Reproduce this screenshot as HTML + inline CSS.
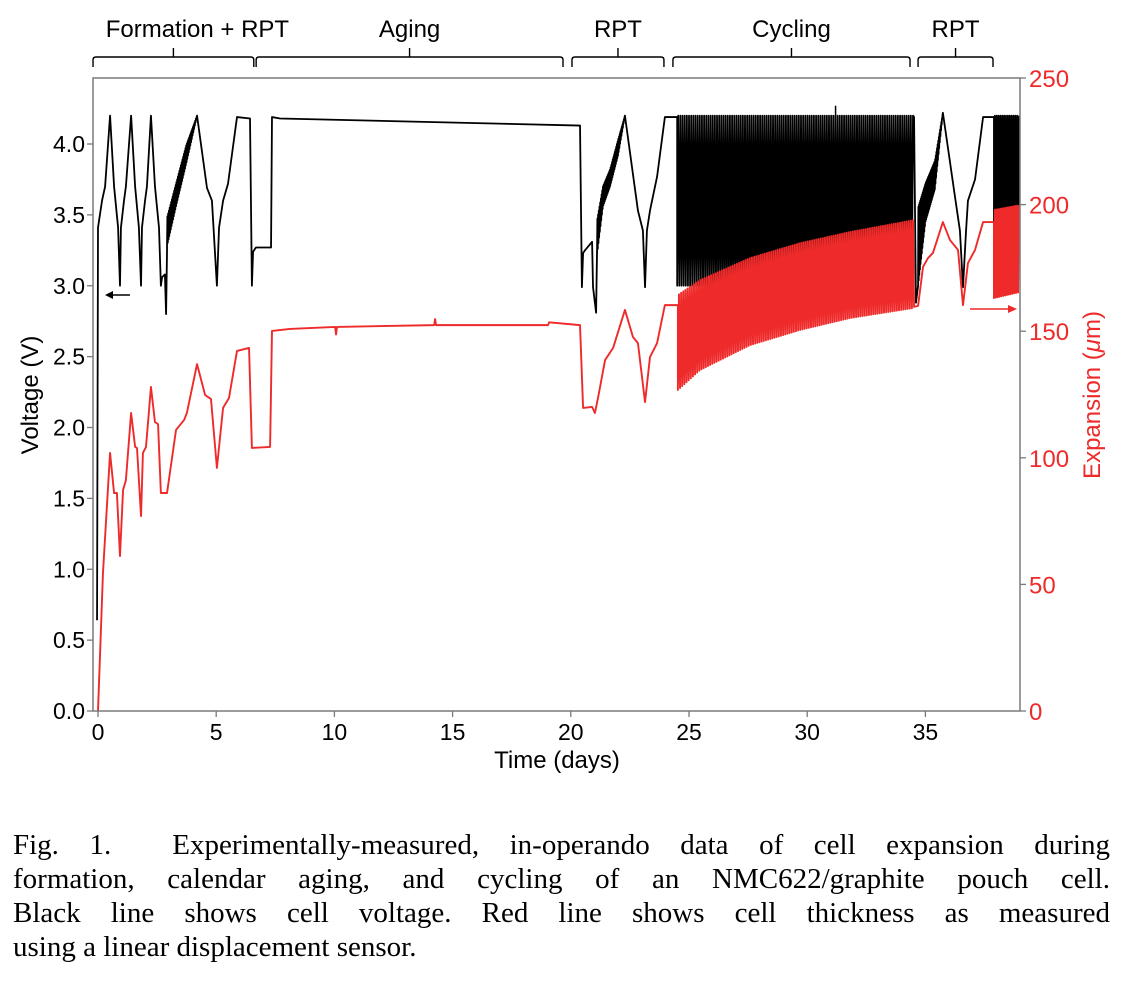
<!DOCTYPE html>
<html><head><meta charset="utf-8">
<style>
body{margin:0;background:#fff;width:1122px;height:988px;overflow:hidden;position:relative;font-family:"Liberation Sans",sans-serif}
#chart{position:absolute;left:0;top:0}
.cap{position:absolute;left:13px;width:1097px;font-family:"Liberation Serif",serif;font-size:29px;line-height:34px;color:#000;white-space:nowrap}
.j{text-align:justify;text-align-last:justify;white-space:normal}
</style></head><body>
<svg id="chart" width="1122" height="800" viewBox="0 0 1122 800" xmlns="http://www.w3.org/2000/svg"></svg>
<div class="cap j" style="top:828px">Fig. 1.&nbsp; Experimentally-measured, in-operando data of cell expansion during</div>
<div class="cap j" style="top:862px">formation, calendar aging, and cycling of an NMC622/graphite pouch cell.</div>
<div class="cap j" style="top:896px">Black line shows cell voltage. Red line shows cell thickness as measured</div>
<div class="cap" style="top:930px">using a linear displacement sensor.</div>
<script>
// ---- data ----
const xTicks = [0,5,10,15,20,25,30,35];
const vTicks = [0,0.5,1,1.5,2,2.5,3,3.5,4];
const vTickLabels = ["0.0","0.5","1.0","1.5","2.0","2.5","3.0","3.5","4.0"];
const eTicks = [0,50,100,150,200,250];
const phaseNames = ["Formation + RPT","Aging","RPT","Cycling","RPT"];
const phaseStart = [-0.21,6.69,20.05,24.32,34.69];
const phaseEnd = [6.59,19.67,23.94,34.35,37.86];

// voltage pieces (days, volts)
const vA_d=[-0.04,0,0.17,0.30,0.51,0.68,0.85,0.93,0.97,1.10,1.18,1.40,1.57,1.73,1.82,1.86,1.99,2.07,2.24,2.41,2.58,2.66,2.71,2.83,2.88,2.92];
const vA_v=[0.64,3.41,3.60,3.70,4.20,3.70,3.41,3.00,3.41,3.60,3.70,4.20,3.70,3.41,3.00,3.41,3.60,3.70,4.20,3.70,3.41,3.00,3.06,3.08,2.80,3.25];
const band1_d=[2.92,3.30,3.73,4.19], band1_lo=[3.28,3.56,3.86,4.20], band1_hi=[3.48,3.72,3.99,4.20];
const vB_d=[4.19,4.61,4.82,5.03,5.12,5.29,5.50,5.88,6.43,6.51,6.56,6.68,7.32,7.36,7.70,20.39,20.47,20.52,20.60,20.90,20.94,21.07,21.11];
const vB_v=[4.20,3.69,3.60,3.00,3.41,3.60,3.72,4.19,4.18,3.00,3.24,3.27,3.27,4.19,4.18,4.13,2.99,3.23,3.25,3.31,2.99,2.81,3.25];
const band2_d=[21.11,21.36,21.66,22.0,22.29], band2_lo=[3.22,3.56,3.70,3.92,4.20], band2_hi=[3.46,3.70,3.82,4.03,4.20];
const vC_d=[22.29,22.84,23.05,23.14,23.22,23.35,23.65,23.98,24.45,24.50];
const vC_v=[4.20,3.53,3.39,2.99,3.39,3.53,3.77,4.19,4.19,4.19];
const cyc1_d=[24.50,34.52], cyc1_lo=[3.0,3.0], cyc1_hi=[4.2,4.2]; const cyc1_n=110;
const vD_d=[34.52,34.60,34.69], vD_v=[4.19,2.88,3.0];
const band3_d=[34.69,35.0,35.4,35.74], band3_lo=[3.0,3.45,3.68,4.22], band3_hi=[3.55,3.72,3.88,4.22];
const vE_d=[35.74,36.25,36.46,36.59,36.72,36.80,37.10,37.44,37.90];
const vE_v=[4.22,3.63,3.39,2.99,3.39,3.60,3.75,4.19,4.19];
const cyc2_d=[37.90,39.0], cyc2_lo=[3.0,3.0], cyc2_hi=[4.2,4.2]; const cyc2_n=14;
const spikeDay=[31.2], spikeV=[4.27];

// expansion pieces (days, µm)
const eA_d=[0,0.21,0.51,0.68,0.80,0.93,1.06,1.18,1.40,1.57,1.65,1.82,1.90,2.03,2.24,2.41,2.54,2.66,2.92,3.30,3.64,3.76,4.19,4.53,4.78,5.03,5.29,5.54,5.88,6.39,6.51,7.28,7.36,8.12,10.03,10.07,10.11,14.22,14.26,14.30,19.04,19.08,20.39,20.52,20.90,21.02,21.15,21.45,21.79,22.29,22.63,22.84,23.14,23.35,23.65,23.98,24.45,24.53];
const eA_v=[0,54.5,101.9,86.1,86.1,61.2,87.3,91.2,117.7,104.3,103.9,77.0,101.9,104.3,128.0,114.1,113.3,86.1,86.1,111.0,114.9,117.7,137.0,124.8,123.2,96.0,119.7,123.6,142.2,143.4,103.9,104.3,150.1,150.9,151.7,148.7,151.7,152.4,154.8,152.4,152.4,153.5,152.4,119.7,120.1,117.7,123.6,138.6,143.4,158.4,147.7,145.3,122.0,139.8,145.3,160.3,160.3,160.3];
const ecyc1_d=[24.53,25.47,27.58,29.70,31.81,34.52];
const ecyc1_lo=[126.8,134.7,144.5,150.5,155.2,159.2];
const ecyc1_hi=[164.3,170.2,178.9,184.8,189.2,193.9];
const eB_d=[34.52,34.69,34.90,35.11,35.32,35.74,36.04,36.38,36.59,36.80,37.10,37.44,37.90];
const eB_v=[159.6,160.0,175.4,178.9,180.9,193.1,186.0,182.1,160.3,176.9,182.1,193.1,193.1];
const ecyc2_d=[37.90,39.0], ecyc2_lo=[163.1,165.5], ecyc2_hi=[197.9,199.8];

// ---- drawing ----
const svg=document.getElementById('chart');
const NS='http://www.w3.org/2000/svg';
const L=93,R=1020,T=78,B=711;
const X=d=>98+d*23.64, YV=v=>711-v*141.75, YE=e=>711-e*2.532;
function mk(tag,attrs,parent){const el=document.createElementNS(NS,tag);for(const k in attrs)el.setAttribute(k,attrs[k]);(parent||svg).appendChild(el);return el;}
function interp(ds,vs,t){if(t<=ds[0])return vs[0];for(let i=1;i<ds.length;i++){if(t<=ds[i]){const f=(t-ds[i-1])/(ds[i]-ds[i-1]);return vs[i-1]+f*(vs[i]-vs[i-1]);}}return vs[vs.length-1];}
function bandPts(ds,lo,hi,n){const p=[];const d0=ds[0],d1=ds[ds.length-1],st=(d1-d0)/n;for(let i=0;i<n;i++){const t=d0+st*i;p.push([t,interp(ds,lo,t)]);p.push([t+st*0.5,interp(ds,hi,t+st*0.5)]);}return p;}
function pairs(ds,vs){return ds.map((d,i)=>[d,vs[i]]);}
function pathStr(pts,Y){return pts.map((p,i)=>(i?'L':'M')+X(p[0]).toFixed(2)+' '+Y(p[1]).toFixed(2)).join(' ');}

const clip=mk('clipPath',{id:'pc'},mk('defs',{}));
mk('rect',{x:L,y:T,width:R-L,height:B-T},clip);

// voltage line
let vp=[].concat(pairs(vA_d,vA_v),bandPts(band1_d,band1_lo,band1_hi,40),pairs(vB_d,vB_v),bandPts(band2_d,band2_lo,band2_hi,40),pairs(vC_d,vC_v),bandPts(cyc1_d,cyc1_lo,cyc1_hi,cyc1_n),pairs(vD_d,vD_v),bandPts(band3_d,band3_lo,band3_hi,40),pairs(vE_d,vE_v),bandPts(cyc2_d,cyc2_lo,cyc2_hi,cyc2_n));
const vl=mk('path',{d:pathStr(vp,YV),fill:'none',stroke:'#000','stroke-width':1.8,'stroke-linejoin':'round','clip-path':'url(#pc)'});


const sp=mk('path',{d:'M'+X(spikeDay[0])+' '+YV(4.2)+'L'+X(spikeDay[0])+' '+YV(spikeV[0]),stroke:'#000','stroke-width':1.5});



// expansion line
let ep=[].concat(pairs(eA_d,eA_v),bandPts(ecyc1_d,ecyc1_lo,ecyc1_hi,cyc1_n),pairs(eB_d,eB_v),bandPts(ecyc2_d,ecyc2_lo,ecyc2_hi,cyc2_n));
const el2=mk('path',{d:pathStr(ep,YE),fill:'none',stroke:'#ee2a2a','stroke-width':1.9,'stroke-linejoin':'round','clip-path':'url(#pc)'});



// frame
const fr=mk('rect',{x:L,y:T,width:R-L,height:B-T,fill:'none',stroke:'#7a7a7a','stroke-width':1.5});



// x ticks
xTicks.forEach(d=>{
  mk('line',{x1:X(d),x2:X(d),y1:B,y2:B+6,stroke:'#7a7a7a','stroke-width':1.3});
  const t=mk('text',{x:X(d),y:B+29,'text-anchor':'middle','font-size':23,fill:'#000'});t.textContent=d;
  
  
});
const xt=mk('text',{x:557,y:768,'text-anchor':'middle','font-size':24,fill:'#000'});xt.textContent='Time (days)';


// left ticks
vTicks.forEach((v,i)=>{
  mk('line',{x1:L-6,x2:L,y1:YV(v),y2:YV(v),stroke:'#7a7a7a','stroke-width':1.3});
  const t=mk('text',{x:L-8,y:YV(v)+8,'text-anchor':'end','font-size':23,fill:'#000'});t.textContent=vTickLabels[i];
  
  
});
const yt=mk('text',{x:0,y:0,transform:'translate(38,395) rotate(-90)','text-anchor':'middle','font-size':24,fill:'#000'});yt.textContent='Voltage (V)';


// right ticks
eTicks.forEach(e=>{
  mk('line',{x1:R,x2:R+6,y1:YE(e),y2:YE(e),stroke:'#7a7a7a','stroke-width':1.3});
  const t=mk('text',{x:R+9,y:YE(e)+9,'text-anchor':'start','font-size':24,fill:'#ee2a2a'});t.textContent=e;
  
  
});
const rt=mk('text',{x:0,y:0,transform:'translate(1100,395) rotate(-90)','text-anchor':'middle','font-size':24,fill:'#ee2a2a'});
rt.innerHTML='Expansion (<tspan font-style="italic">μ</tspan>m)';



// arrows
const a1=mk('g',{});


mk('line',{x1:130,x2:110,y1:295,y2:295,stroke:'#000','stroke-width':1.5},a1);
mk('path',{d:'M105 295 L113 291 L113 299 Z',fill:'#000'},a1);
const a2=mk('g',{});


mk('line',{x1:970,x2:1010,y1:309,y2:309,stroke:'#ee2a2a','stroke-width':1.5},a2);
mk('path',{d:'M1017 309 L1008 305 L1008 313 Z',fill:'#ee2a2a'},a2);

// phase brackets
phaseNames.forEach((n,i)=>{
  const x1=X(phaseStart[i]),x2=X(phaseEnd[i]),xm=(x1+x2)/2;
  const g=mk('g',{});
  
  
  mk('path',{d:`M${x1} 67 L${x1} 60 Q${x1} 57 ${x1+3} 57 L${x2-3} 57 Q${x2} 57 ${x2} 60 L${x2} 67 M${xm} 57 L${xm} 48`,fill:'none',stroke:'#000','stroke-width':1.4},g);
  const t=mk('text',{x:xm+(i==0?24:0),y:37,'text-anchor':'middle','font-size':24,fill:'#000'},g);t.textContent=n;
});
</script>
</body></html>
